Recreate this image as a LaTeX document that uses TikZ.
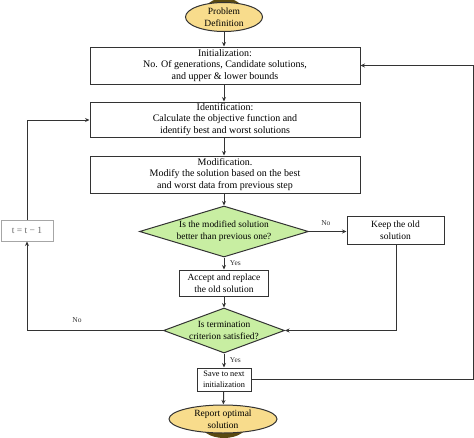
\documentclass[tikz,border=0pt]{standalone}
\usepackage{fontspec}
\setmainfont{Liberation Serif}
\usetikzlibrary{shapes.geometric,arrows.meta,calc}
\definecolor{linec}{HTML}{333333}
\definecolor{ellfill}{HTML}{F8DC8C}
\definecolor{ellshadow}{HTML}{5A4A10}
\definecolor{dfill}{HTML}{C8EEA2}
\tikzset{
  base/.style={draw=linec, line width=1pt, align=center, inner sep=0pt,
    font=\fontsize{9.5}{12.3}\selectfont},
  procbox/.style={base, rectangle, fill=white},
  bigbox/.style={procbox, minimum width=270pt, font=\fontsize{10}{11.8}\selectfont},
  term/.style={base, ellipse, fill=ellfill},
  decis/.style={draw=linec, line width=1pt, diamond, fill=dfill, inner sep=0pt},
  dtext/.style={align=center, font=\fontsize{9.4}{12.3}\selectfont},
  lbl/.style={font=\fontsize{7.5}{9}\selectfont, text=linec},
  conn/.style={draw=linec, line width=1pt, -{Stealth[length=4.5pt,width=4pt]}}
}
\begin{document}
\begin{tikzpicture}[x=1pt,y=-1pt]
\useasboundingbox (0,0) rectangle (474,437);
% shadows of terminals
\fill[ellshadow] (224,13) ellipse (20pt and 15pt);
\fill[ellshadow] (224,423) ellipse (24pt and 15pt);
\node[term, minimum width=77pt, minimum height=29pt] (pd) at (224,17) {Problem\\Definition};
\node[bigbox, minimum height=37pt] (init) at (225,65.5)
  {Initialization:\\No. Of generations, Candidate solutions,\\and upper \& lower bounds};
\node[bigbox, minimum height=35pt] (ident) at (225,119.5)
  {Identification:\\Calculate the objective function and\\identify best and worst solutions};
\node[bigbox, minimum height=37pt] (modif) at (225,174.5)
  {Modification.\\Modify the solution based on the best\\and worst data from previous step};
\node[decis, minimum width=169pt, minimum height=51pt] (d1) at (224,231.5) {};
\node[dtext] (d1t) at (224,231.5) {Is the modified solution\\better than previous one?};
\node[procbox, minimum width=97pt, minimum height=28pt] (keep) at (395.5,230) {Keep the old\\solution};
\node[procbox, draw=gray!70, text=gray!80!black, minimum width=52pt, minimum height=21pt] (tb) at (27,230.5) {t = t − 1};
\node[procbox, minimum width=89pt, minimum height=26pt] (acc) at (224,283) {Accept and replace\\the old solution};
\node[decis, minimum width=121pt, minimum height=45pt] (d2) at (224,330.5) {};
\node[dtext] (d2t) at (224,330.5) {Is termination\\criterion satisfied?};
\node[procbox, minimum width=54pt, minimum height=23pt, font=\fontsize{8.3}{11}\selectfont] (save) at (224,379.5) {Save to next\\initialization};
\node[term, minimum width=108pt, minimum height=28pt] (rep) at (223,419) {Report optimal\\solution};
\coordinate (rc1) at (473,379.5);
\coordinate (rc2) at (473,65.5);
\coordinate (lc1) at (27,330.5);
\coordinate (lc2) at (27,120);
\coordinate (kc) at (396,330.5);
% connectors
\path[conn] (pd) -- (pd |- init.north);
\path[conn] (init.south -| pd) -- (ident.north -| pd);
\path[conn] (ident.south -| pd) -- (modif.north -| pd);
\path[conn] (modif.south -| d1) -- (d1);
\path[conn] (d1) -- node[lbl, above, pos=0.45, yshift=2pt] {No} (d1.east -| keep.west);
\path[conn] (d1) -- node[lbl, right, pos=0.5, xshift=2pt] {Yes} (acc);
\path[conn] (acc) -- (d2);
\path[conn] (keep.south -| kc) -- (kc) -- (d2.east);
\path[conn] (d2.west) -- node[lbl, above, pos=0.5, xshift=-18pt, yshift=4pt] {No} (lc1) -- (tb.south);
\path[conn] (tb.north) -- (lc2) -- (lc2 -| ident.west);
\path[conn] (d2) -- node[lbl, right, pos=0.5, xshift=2pt] {Yes} (save);
\path[conn] (save) -- (rep);
\path[conn] (save.east) -- (rc1) -- (rc2) -- (init.east);
\end{tikzpicture}
\end{document}
